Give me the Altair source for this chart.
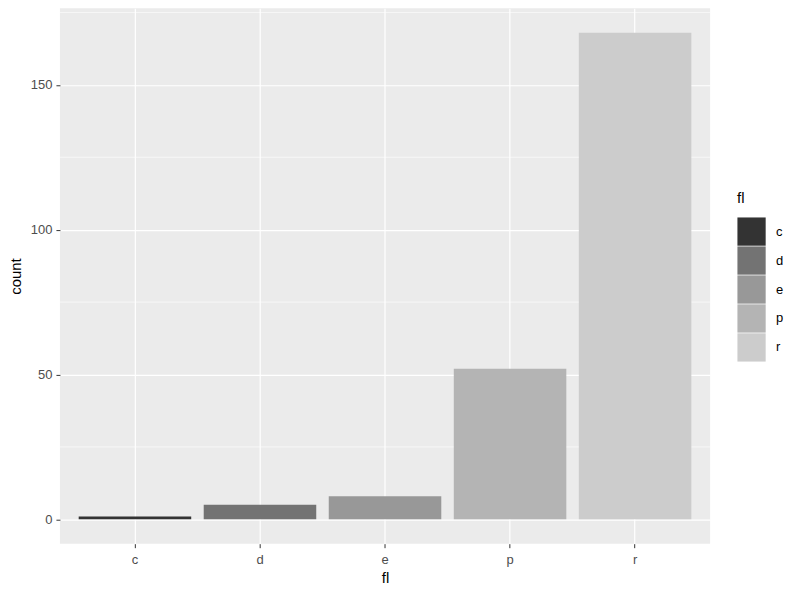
import altair as alt
import pandas as pd

categories = ["c", "d", "e", "p", "r"]
counts = [1, 5, 8, 52, 168]
fills = ["#333333", "#737373", "#989898", "#B4B4B4", "#CCCCCC"]
major_y = [0, 50, 100, 150]
minor_y = [25, 75, 125, 175]

df = pd.DataFrame({"fl": categories, "count": counts})
minor_df = pd.DataFrame({"v": minor_y})

FONT = "Liberation Sans"
ydom = [-8.4, 176.4]

xenc = alt.X("fl:N", sort=categories,
             scale=alt.Scale(paddingInner=0.1, paddingOuter=0.15),
             axis=alt.Axis(title="fl", labelAngle=0, domain=False,
                           grid=True, gridColor="white", gridWidth=1.2,
                           tickColor="#333333", tickSize=4, tickWidth=1,
                           labelColor="#4D4D4D", labelFontSize=13, labelPadding=6,
                           titleFontSize=15, titleFontWeight="normal", titleColor="black",
                           titlePadding=4, labelFont=FONT, titleFont=FONT))

yscale = alt.Scale(domain=ydom, nice=False, zero=False)

bars = alt.Chart(df).mark_bar().encode(
    x=xenc,
    y=alt.Y("count:Q", scale=yscale,
            axis=alt.Axis(title="count", values=major_y, domain=False,
                          grid=True, gridColor="white", gridWidth=1.2,
                          tickColor="#333333", tickSize=4, tickWidth=1,
                          labelColor="#4D4D4D", labelFontSize=13, labelPadding=4,
                          titleFontSize=15, titleFontWeight="normal", titleColor="black",
                          titlePadding=7, labelFont=FONT, titleFont=FONT)),
    y2=alt.datum(0),
    color=alt.Color("fl:N", sort=categories,
                    scale=alt.Scale(domain=categories, range=fills),
                    legend=alt.Legend(title="fl", orient="none", legendX=678, legendY=183,
                                      symbolType="square", symbolSize=800,
                                      symbolStrokeWidth=0, symbolOpacity=1,
                                      rowPadding=0, labelFontSize=13, labelColor="black",
                                      titleFontSize=15, titleFontWeight="normal",
                                      titleColor="black", labelFont=FONT, titleFont=FONT,
                                      titlePadding=11, labelOffset=10)),
)

minor = alt.Chart(minor_df).mark_rule(color="white", strokeWidth=0.6).encode(
    y=alt.Y("v:Q", scale=yscale)
)

chart = alt.layer(minor, bars).properties(
    width=651, height=536,
    autosize=alt.AutoSizeParams(type="none"),
    padding={"left": 52, "top": 0, "right": 80, "bottom": 45},
).configure(background="white").configure_view(fill="#EBEBEB", stroke=None)

chart.save("out.html", embed_options={"renderer": "svg", "actions": False})
